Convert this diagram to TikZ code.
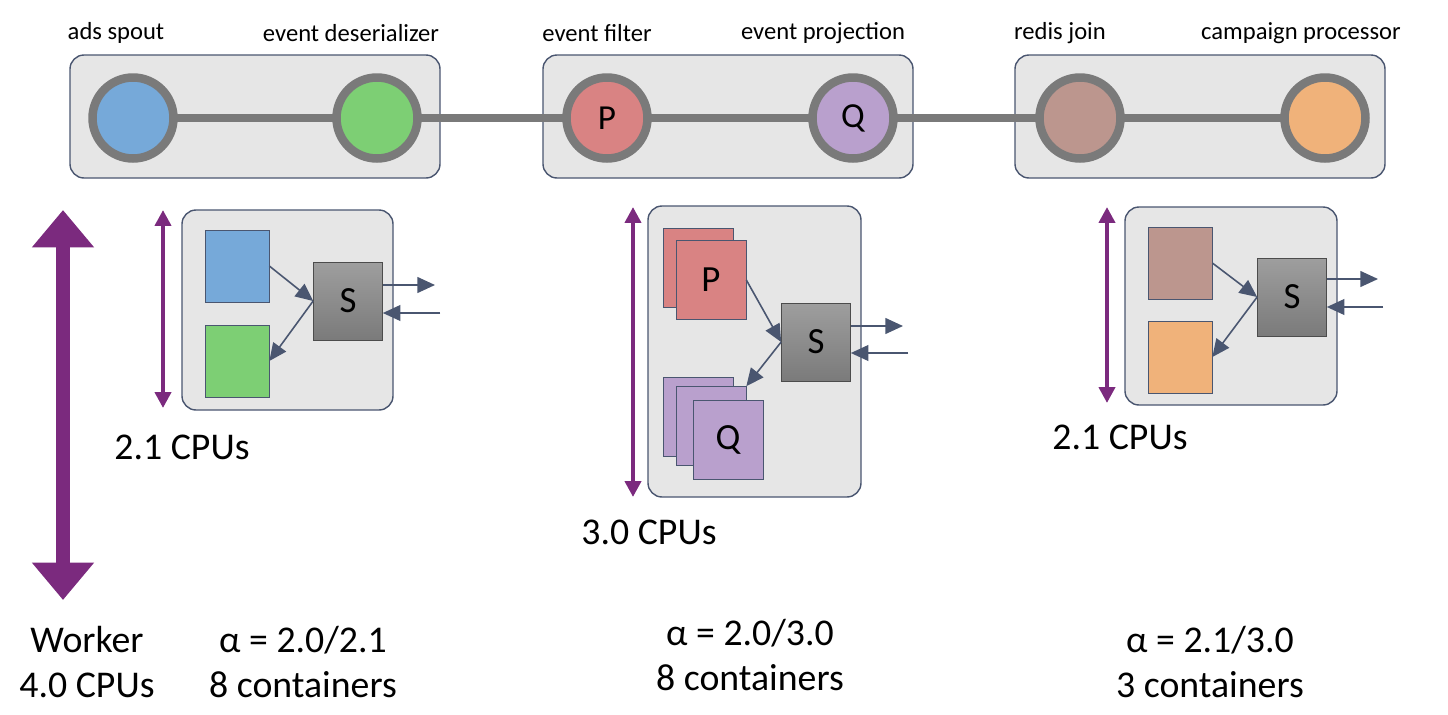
\documentclass[tikz,border=0pt]{standalone}
\usepackage{fontspec}
\setmainfont{Carlito}
\usetikzlibrary{arrows.meta,positioning}
\definecolor{boxfill}{HTML}{E6E6E6}
\definecolor{boxline}{HTML}{4A5670}
\definecolor{cpublue}{HTML}{76A9D9}
\definecolor{cpugreen}{HTML}{7DCF74}
\definecolor{cpured}{HTML}{D98383}
\definecolor{cpuviolet}{HTML}{B9A0CD}
\definecolor{cpubrown}{HTML}{BC968E}
\definecolor{cpuorange}{HTML}{F0B27A}
\definecolor{worker}{HTML}{7B2A7E}
\definecolor{ring}{HTML}{7A7A7A}

\tikzset{
  stage/.style={draw=boxline, fill=boxfill, rounded corners=8pt, thick},
  op/.style={circle, draw=ring, line width=0.17cm, minimum size=1.62cm, inner sep=0pt, font=\fontsize{20}{22}\selectfont},
  oplabel/.style={font=\fontsize{14}{16}\selectfont},
  task/.style={draw=boxline, minimum width=1.28cm, minimum height=1.44cm, inner sep=0pt, font=\fontsize{21}{23}\selectfont},
  bigtask/.style={task, minimum width=1.4cm, minimum height=1.58cm},
  sched/.style={draw=black!70, top color=black!38, bottom color=black!52, minimum width=1.38cm, minimum height=1.56cm, inner sep=0pt, font=\fontsize{21}{23}\selectfont},
  flow/.style={-{Triangle[width=9pt,length=10pt]}, draw=boxline, fill=boxline, line width=0.9pt},
  cpus/.style={worker, line width=2.4pt, {Triangle[width=9pt,length=9pt]}-{Triangle[width=9pt,length=9pt]}},
  big/.style={font=\fontsize{21.5}{24}\selectfont},
  bottom/.style={font=\fontsize{21.5}{26}\selectfont, align=center}
}

\begin{document}
\begin{tikzpicture}[x=0.02cm,y=-0.02cm]
  \useasboundingbox (0,0) rectangle (1448,714);

  % stages
  \draw[stage] (70,55) rectangle (440,178);
  \draw[stage] (543,55) rectangle (913,178);
  \draw[stage] (1015,55) rectangle (1385,178);
  \draw[ring, line width=0.16cm] (133,118) -- (1325,118);

  \node[op, fill=cpublue]   (ads)  at (133,118) {};
  \node[op, fill=cpugreen]  (des)  at (377,118) {};
  \node[op, fill=cpured]    (filt) at (607,118) {P};
  \node[op, fill=cpuviolet] (proj) at (853,118) {Q};
  \node[op, fill=cpubrown]  (join) at (1080,118) {};
  \node[op, fill=cpuorange] (camp) at (1325,118) {};

  \node[oplabel] at (116,33) {ads spout};
  \node[oplabel] at (351,33) {event deserializer};
  \node[oplabel] at (597,33) {event filter};
  \node[oplabel] at (823,33) {event projection};
  \node[oplabel] at (1060,33) {redis join};
  \node[oplabel] at (1301,33) {campaign processor};

  % worker
  \coordinate (wtop) at (63,210);
  \coordinate (wbot) at (63,600);
  \draw[worker, line width=0.28cm, {Triangle[width=1.2cm,length=0.75cm]}-{Triangle[width=1.2cm,length=0.75cm]}] (wtop) -- (wbot);
  \node[bottom] (wlab) at (87,662) {Worker\\4.0 CPUs};

  % container 1
  \draw[stage] (182,210) rectangle (393,410);
  \coordinate (c1t) at (163,210);
  \coordinate (c1b) at (163,408);
  \draw[cpus] (c1t) -- (c1b);
  \node[task, fill=cpublue]  (a1) at (237,266) {};
  \node[task, fill=cpugreen] (a2) at (237,361) {};
  \node[sched] (s1) at (348,301) {S};
  \coordinate (o1) at (435,285);
  \coordinate (i1) at (440,313);
  \draw[flow] (a1.east) -- (s1.west);
  \draw[flow] (s1.west) -- (a2.east);
  \draw[flow] (s1.east |- o1) -- (o1);
  \draw[flow] (i1) -- (s1.east |- i1);
  \node[big] at (182,447) {2.1 CPUs};
  \node[bottom] at (303,662) {α = 2.0/2.1\\8 containers};

  % container 2
  \draw[stage] (648,206) rectangle (861,497);
  \coordinate (c2t) at (633,207);
  \coordinate (c2b) at (633,497);
  \draw[cpus] (c2t) -- (c2b);
  \node[bigtask, fill=cpured] at (698,268) {};
  \node[bigtask, fill=cpured] (p2) at (711,280) {P};
  \node[bigtask, fill=cpuviolet] (q0) at (698,417) {};
  \node[bigtask, fill=cpuviolet] (q1) at (711,426) {};
  \node[bigtask, fill=cpuviolet] (q2) at (728,440) {Q};
  \node[sched] (s2) at (816,342) {S};
  \coordinate (o2) at (903,326);
  \coordinate (i2) at (908,353);
  \draw[flow] (p2.east) -- (s2.west);
  \draw[flow] (s2.west) -- (q1.north east);
  \draw[flow] (s2.east |- o2) -- (o2);
  \draw[flow] (i2) -- (s2.east |- i2);
  \node[big] at (649,532) {3.0 CPUs};
  \node[bottom] at (750,655) {α = 2.0/3.0\\8 containers};

  % container 3
  \draw[stage] (1125,207) rectangle (1337,405);
  \coordinate (c3t) at (1107,207);
  \coordinate (c3b) at (1107,403);
  \draw[cpus] (c3t) -- (c3b);
  \node[task, fill=cpubrown]  (b1) at (1180,263) {};
  \node[task, fill=cpuorange] (b2) at (1180,357) {};
  \node[sched] (s3) at (1292,297) {S};
  \coordinate (o3) at (1378,279);
  \coordinate (i3) at (1383,307);
  \draw[flow] (b1.east) -- (s3.west);
  \draw[flow] (s3.west) -- (b2.east);
  \draw[flow] (s3.east |- o3) -- (o3);
  \draw[flow] (i3) -- (s3.east |- i3);
  \node[big] at (1120,437) {2.1 CPUs};
  \node[bottom] at (1210,662) {α = 2.1/3.0\\3 containers};
\end{tikzpicture}
\end{document}
